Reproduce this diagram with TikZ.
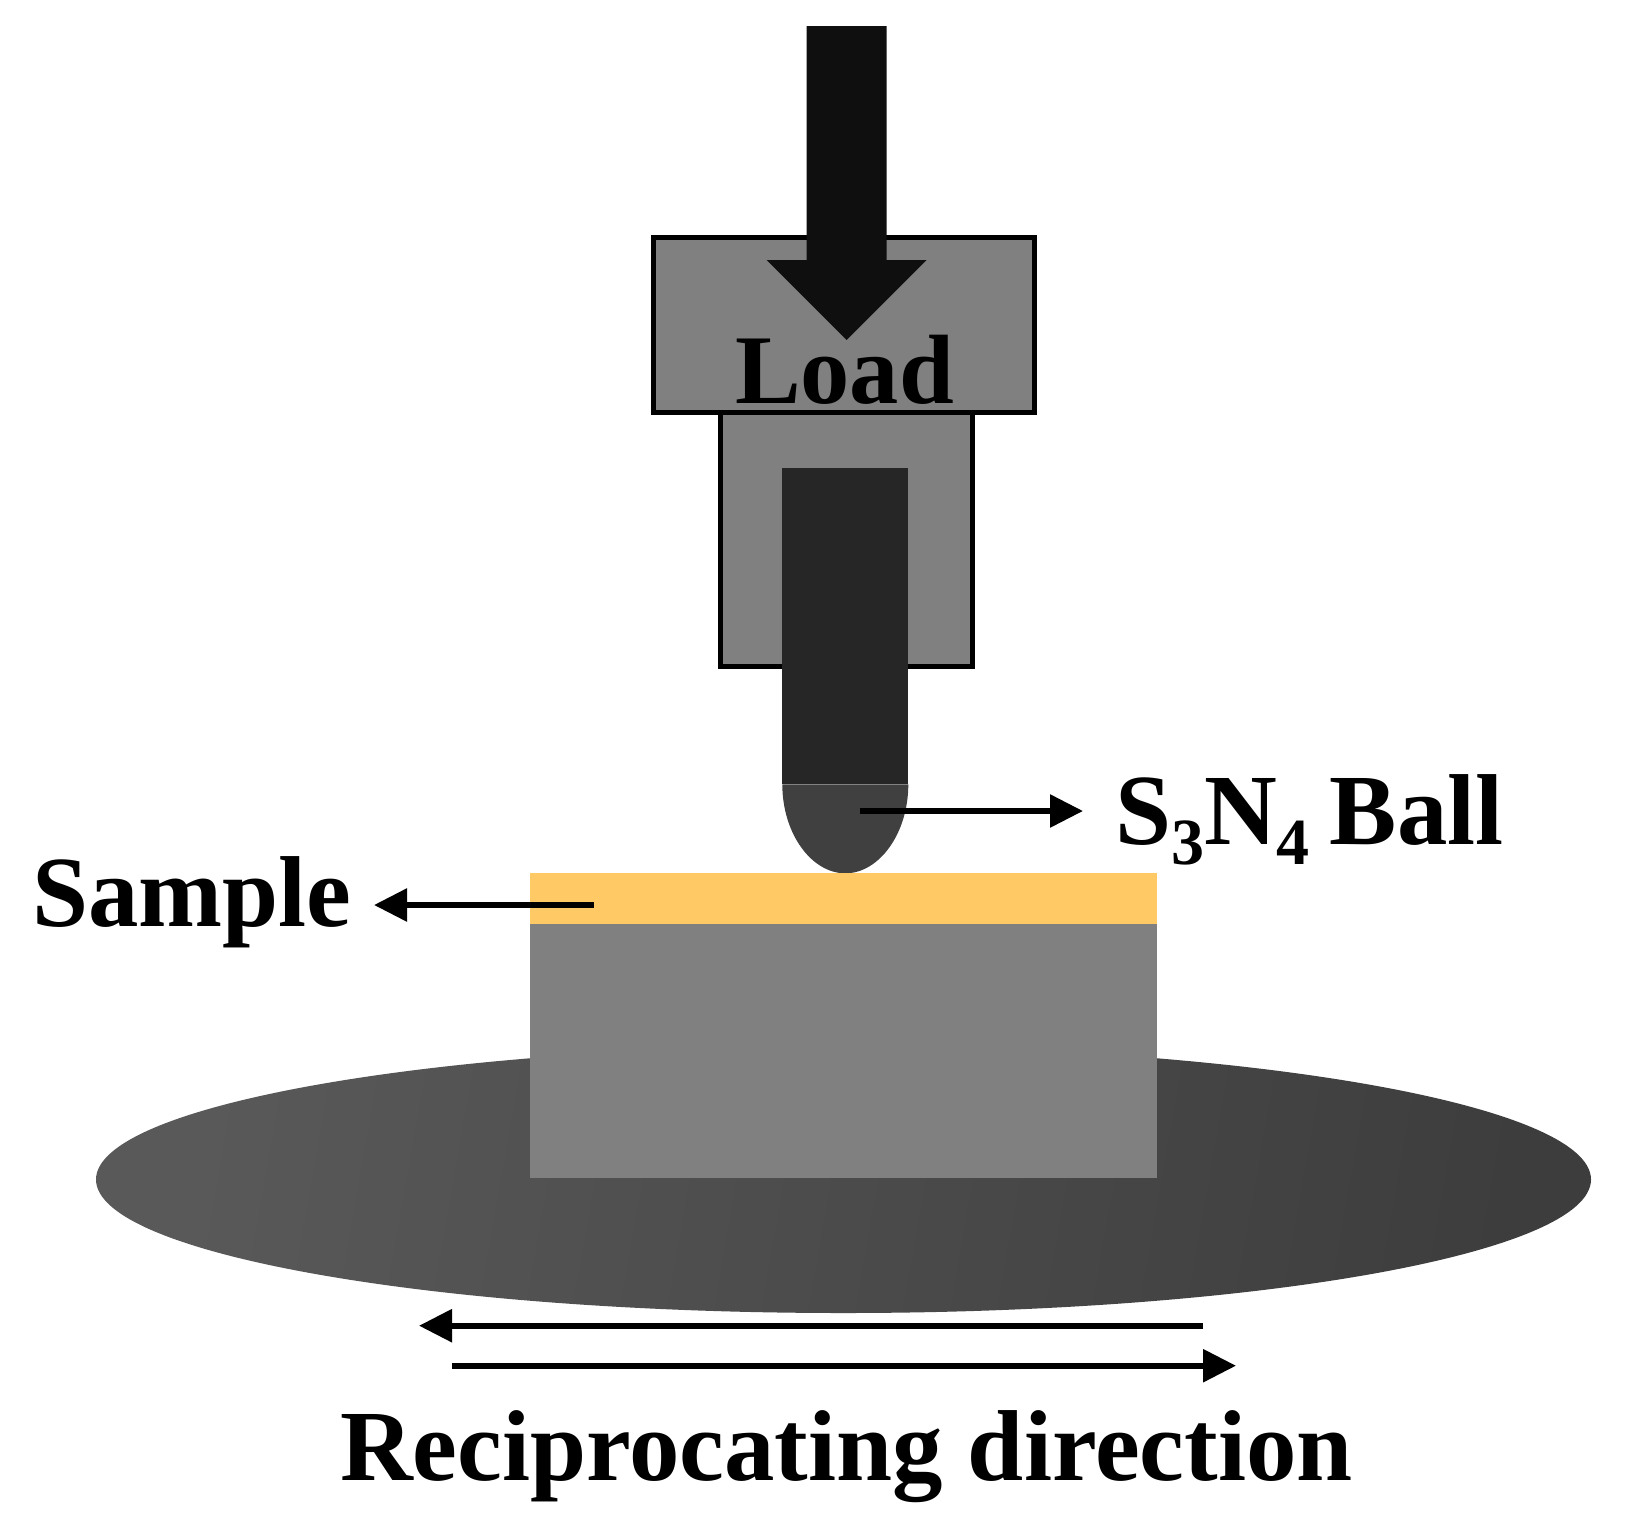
\documentclass[tikz,border=0pt]{standalone}
\usepackage{fontspec}
\setmainfont{Liberation Serif}
\usetikzlibrary{arrows.meta}
\definecolor{loadblack}{HTML}{0F0F0F}
\definecolor{midgrey}{HTML}{808080}
\definecolor{roddark}{HTML}{262626}
\definecolor{balldark}{HTML}{404040}
\definecolor{filmyellow}{HTML}{FFC966}
\tikzset{
  label text/.style={anchor=base west,inner sep=0pt,outer sep=0pt,font=\bfseries\fontsize{100.8pt}{101pt}\selectfont,text=black},
  load text/.style={label text,font=\bfseries\fontsize{98.5pt}{98.5pt}\selectfont},
  holder/.style={draw=black,line width=5.5pt,fill=midgrey,line join=miter},
  pointer/.style={line width=5.8pt,draw=black,-{Triangle[length=33pt,width=32pt]}}
}
\newcommand{\subdigit}[1]{\raisebox{-20pt}{\fontsize{66pt}{66pt}\selectfont #1}}
\begin{document}
\begin{tikzpicture}[x=1pt,y=-1pt]
\useasboundingbox (0,0) rectangle (1629,1531);
\fill[white] (0,0) rectangle (1629,1531);
% holder
\draw[holder] (720.7,410) rectangle (972.3,666.3);
\draw[holder] (653.7,237.7) rectangle (1034.3,412.3);
% rod and ball
\fill[roddark] (782.3,468) rectangle (908.3,784.3);
\fill[balldark] (782.3,784.3) .. controls (782.3,833.5) and (811.5,873.3) .. (845.3,873.3)
  .. controls (879.1,873.3) and (908.3,833.5) .. (908.3,784.3) -- cycle;
% table
\shade[left color=black!65,right color=black!76,shading angle=80] (843.5,1179.5) ellipse [x radius=747.5pt,y radius=133.5pt];
% sample
\fill[midgrey] (530,923.7) rectangle (1157,1178);
\fill[filmyellow] (530,873) rectangle (1157,923.7);
% load arrow
\fill[loadblack] (806.5,26) -- (886.5,26) -- (886.5,260) -- (926.5,260) -- (846.5,340) -- (766.5,260) -- (806.5,260) -- cycle;
% labels
\node[load text] (load) at (735,403) {Load};
\node[label text] (ball) at (1115,844) {S\subdigit{3}N\subdigit{4}\hspace{20pt}Ball};
\node[label text] (sample) at (32,926) {Sample};
\node[label text] (recip) at (340,1480) {Reciprocating direction};
% connectors
\coordinate (ballStart) at (860,811);
\coordinate (ballEnd) at (1083,811);
\coordinate (sampleStart) at (594,905);
\coordinate (sampleEnd) at (374,905);
\coordinate (backStart) at (1203,1325.7);
\coordinate (backEnd) at (419,1325.7);
\coordinate (foreStart) at (452,1365.7);
\coordinate (foreEnd) at (1236,1365.7);
\draw[pointer] (ballStart) -- (ballEnd);
\draw[pointer] (sampleStart) -- (sampleEnd);
\draw[pointer] (backStart) -- (backEnd);
\draw[pointer] (foreStart) -- (foreEnd);
\end{tikzpicture}
\end{document}
